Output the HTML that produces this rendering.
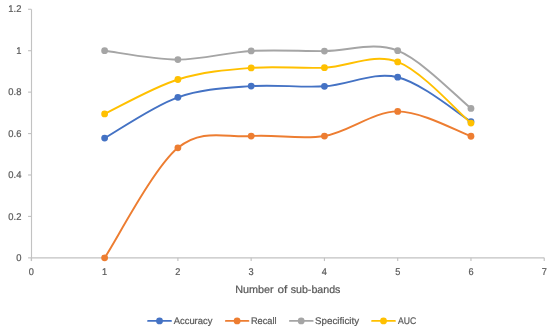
<!DOCTYPE html>
<html><head><meta charset="utf-8"><title>Chart</title>
<style>
html,body{margin:0;padding:0;background:#fff;}
body{width:550px;height:331px;overflow:hidden;}
svg{display:block;}
text{font-family:"Liberation Sans",sans-serif;fill:#595959;stroke:#595959;stroke-width:0.22;text-rendering:geometricPrecision;}
</style></head><body>
<svg width="550" height="331" viewBox="0 0 550 331">
<rect width="550" height="331" fill="#fff"/>

<g stroke="#C2C2C2" stroke-width="1.15" fill="none">
<line x1="31.50" y1="9.27" x2="31.50" y2="261.05"/>
<line x1="31.35" y1="257.85" x2="544.24" y2="257.85"/>
<line x1="28.05" y1="257.85" x2="31.35" y2="257.85"/>
<line x1="28.05" y1="216.42" x2="31.35" y2="216.42"/>
<line x1="28.05" y1="174.99" x2="31.35" y2="174.99"/>
<line x1="28.05" y1="133.56" x2="31.35" y2="133.56"/>
<line x1="28.05" y1="92.13" x2="31.35" y2="92.13"/>
<line x1="28.05" y1="50.70" x2="31.35" y2="50.70"/>
<line x1="28.05" y1="9.27" x2="31.35" y2="9.27"/>
<line x1="31.35" y1="257.85" x2="31.35" y2="261.05"/>
<line x1="104.62" y1="257.85" x2="104.62" y2="261.05"/>
<line x1="177.89" y1="257.85" x2="177.89" y2="261.05"/>
<line x1="251.16" y1="257.85" x2="251.16" y2="261.05"/>
<line x1="324.43" y1="257.85" x2="324.43" y2="261.05"/>
<line x1="397.70" y1="257.85" x2="397.70" y2="261.05"/>
<line x1="470.97" y1="257.85" x2="470.97" y2="261.05"/>
<line x1="544.24" y1="257.85" x2="544.24" y2="261.05"/>
</g>
<g font-size="9.8">
<text x="16.17" y="261.05" textLength="5.23" lengthAdjust="spacingAndGlyphs">0</text>
<text x="8.32" y="219.62" textLength="13.08" lengthAdjust="spacingAndGlyphs">0.2</text>
<text x="8.32" y="178.19" textLength="13.08" lengthAdjust="spacingAndGlyphs">0.4</text>
<text x="8.32" y="136.76" textLength="13.08" lengthAdjust="spacingAndGlyphs">0.6</text>
<text x="8.32" y="95.33" textLength="13.08" lengthAdjust="spacingAndGlyphs">0.8</text>
<text x="16.17" y="53.90" textLength="5.23" lengthAdjust="spacingAndGlyphs">1</text>
<text x="8.32" y="12.47" textLength="13.08" lengthAdjust="spacingAndGlyphs">1.2</text>
<text x="28.79" y="275.00" textLength="5.12" lengthAdjust="spacingAndGlyphs">0</text>
<text x="102.06" y="275.00" textLength="5.12" lengthAdjust="spacingAndGlyphs">1</text>
<text x="175.33" y="275.00" textLength="5.12" lengthAdjust="spacingAndGlyphs">2</text>
<text x="248.60" y="275.00" textLength="5.12" lengthAdjust="spacingAndGlyphs">3</text>
<text x="321.87" y="275.00" textLength="5.12" lengthAdjust="spacingAndGlyphs">4</text>
<text x="395.14" y="275.00" textLength="5.12" lengthAdjust="spacingAndGlyphs">5</text>
<text x="468.41" y="275.00" textLength="5.12" lengthAdjust="spacingAndGlyphs">6</text>
<text x="541.68" y="275.00" textLength="5.12" lengthAdjust="spacingAndGlyphs">7</text>
</g>
<text y="292.6" font-size="10.7"><tspan x="235.2" textLength="38.5" lengthAdjust="spacingAndGlyphs">Number</tspan> <tspan x="277.6" textLength="9.8" lengthAdjust="spacingAndGlyphs">of</tspan> <tspan x="290.7" textLength="49.7" lengthAdjust="spacingAndGlyphs">sub-bands</tspan></text>
<path d="M104.62 138.12 C116.83 131.32 153.47 105.97 177.89 97.31 C202.31 88.64 226.74 87.95 251.16 86.12 C275.58 84.29 300.01 87.81 324.43 86.33 C348.85 84.85 373.28 71.35 397.70 77.22 C422.12 83.08 458.76 114.16 470.97 121.55" fill="none" stroke="#4472C4" stroke-width="1.95" stroke-linecap="round" stroke-linejoin="round"/>
<g fill="#4472C4"><circle cx="104.62" cy="138.12" r="3.4"/><circle cx="177.89" cy="97.31" r="3.4"/><circle cx="251.16" cy="86.12" r="3.4"/><circle cx="324.43" cy="86.33" r="3.4"/><circle cx="397.70" cy="77.22" r="3.4"/><circle cx="470.97" cy="121.55" r="3.4"/></g>
<path d="M104.62 257.85 C116.83 239.52 153.47 168.15 177.89 147.85 C202.31 127.55 226.74 138.01 251.16 136.05 C275.58 134.08 300.01 140.15 324.43 136.05 C348.85 131.94 373.28 111.36 397.70 111.39 C422.12 111.43 458.76 132.11 470.97 136.25" fill="none" stroke="#ED7D31" stroke-width="1.95" stroke-linecap="round" stroke-linejoin="round"/>
<g fill="#ED7D31"><circle cx="104.62" cy="257.85" r="3.4"/><circle cx="177.89" cy="147.85" r="3.4"/><circle cx="251.16" cy="136.05" r="3.4"/><circle cx="324.43" cy="136.05" r="3.4"/><circle cx="397.70" cy="111.39" r="3.4"/><circle cx="470.97" cy="136.25" r="3.4"/></g>
<path d="M104.62 50.70 C116.83 52.18 153.47 59.57 177.89 59.61 C202.31 59.64 226.74 52.32 251.16 50.91 C275.58 49.49 300.01 51.15 324.43 51.11 C348.85 51.08 373.28 41.15 397.70 50.70 C422.12 60.25 458.76 98.78 470.97 108.39" fill="none" stroke="#A5A5A5" stroke-width="1.95" stroke-linecap="round" stroke-linejoin="round"/>
<g fill="#A5A5A5"><circle cx="104.62" cy="50.70" r="3.4"/><circle cx="177.89" cy="59.61" r="3.4"/><circle cx="251.16" cy="50.91" r="3.4"/><circle cx="324.43" cy="51.11" r="3.4"/><circle cx="397.70" cy="50.70" r="3.4"/><circle cx="470.97" cy="108.39" r="3.4"/></g>
<path d="M104.62 113.88 C116.83 108.15 153.47 87.16 177.89 79.49 C202.31 71.83 226.74 69.86 251.16 67.89 C275.58 65.93 300.01 68.69 324.43 67.69 C348.85 66.69 373.28 52.65 397.70 61.89 C422.12 71.12 458.76 112.90 470.97 123.10" fill="none" stroke="#FFC000" stroke-width="1.95" stroke-linecap="round" stroke-linejoin="round"/>
<g fill="#FFC000"><circle cx="104.62" cy="113.88" r="3.4"/><circle cx="177.89" cy="79.49" r="3.4"/><circle cx="251.16" cy="67.89" r="3.4"/><circle cx="324.43" cy="67.69" r="3.4"/><circle cx="397.70" cy="61.89" r="3.4"/><circle cx="470.97" cy="123.10" r="3.4"/></g>
<line x1="148.1" y1="320.9" x2="171.0" y2="320.9" stroke="#4472C4" stroke-width="1.9" stroke-linecap="round"/>
<circle cx="159.5" cy="320.9" r="3.4" fill="#4472C4"/>
<text x="173.7" y="323.8" font-size="9.6" textLength="38.7" lengthAdjust="spacingAndGlyphs">Accuracy</text>
<line x1="225.9" y1="320.9" x2="248.4" y2="320.9" stroke="#ED7D31" stroke-width="1.9" stroke-linecap="round"/>
<circle cx="237.1" cy="320.9" r="3.4" fill="#ED7D31"/>
<text x="250.9" y="323.8" font-size="9.6" textLength="25.7" lengthAdjust="spacingAndGlyphs">Recall</text>
<line x1="289.9" y1="320.9" x2="312.7" y2="320.9" stroke="#A5A5A5" stroke-width="1.9" stroke-linecap="round"/>
<circle cx="301.2" cy="320.9" r="3.4" fill="#A5A5A5"/>
<text x="315.1" y="323.8" font-size="9.6" textLength="44.0" lengthAdjust="spacingAndGlyphs">Specificity</text>
<line x1="372.1" y1="320.9" x2="394.9" y2="320.9" stroke="#FFC000" stroke-width="1.9" stroke-linecap="round"/>
<circle cx="383.5" cy="320.9" r="3.4" fill="#FFC000"/>
<text x="398.1" y="323.8" font-size="9.6" textLength="18.2" lengthAdjust="spacingAndGlyphs">AUC</text>
</svg></body></html>
